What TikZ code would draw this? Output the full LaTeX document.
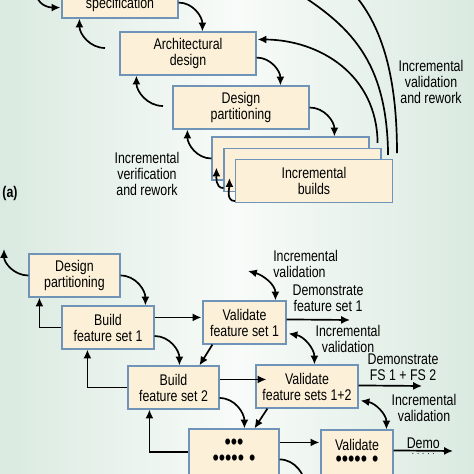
\documentclass[tikz,border=0pt]{standalone}
\usepackage{fontspec}
\setmainfont[FakeStretch=0.8]{Liberation Sans}
\usetikzlibrary{arrows.meta,calc}

\definecolor{boxfill}{HTML}{FCF1D8}
\definecolor{boxline}{HTML}{6F94B8}
\definecolor{bgside}{HTML}{DAEAE0}
\definecolor{bgmid}{HTML}{F8FBF9}

\newcommand{\bigdots}[1]{{\fontsize{16}{11.4}\selectfont #1}}

\tikzset{
	stage/.style={draw=boxline, fill=boxfill, line width=0.8pt, align=center, inner sep=0pt},
	arr/.style={line width=1.2pt, -{Latex[length=2.2mm,width=2mm]}},
	darr/.style={line width=1.2pt, {Latex[length=2.2mm,width=2mm]}-{Latex[length=2.2mm,width=2mm]}},
	wire/.style={line width=1.2pt},
	lbl/.style={align=center, inner sep=0pt}
}

\begin{document}
\begin{tikzpicture}[x=0.025cm, y=-0.025cm, every node/.style={font=\fontsize{11}{11.4}\selectfont}]

	\useasboundingbox (0,0) rectangle (474,474);
	\clip (0,0) rectangle (474,474);
	\shade[left color=bgside, right color=bgside, middle color=bgmid] (0,0) rectangle (474,474);

	% (a) waterfall with incremental builds
	\draw (120,-3.5) node[stage, minimum width=2.9cm, minimum height=1.075cm] (spec) {\vphantom{Ag}\\specification};
	\draw (188,53.5) node[stage, minimum width=3.4cm, minimum height=1.075cm] (arch) {Architectural\\design};
	\draw (241,107.5) node[stage, minimum width=3.4cm, minimum height=1.075cm] (dp) {Design\\partitioning};
	% Build stack
	\draw (290.5,158.5) node[stage, minimum width=3.925cm, minimum height=1.075cm] (b1) {};
	\draw (302.5,170) node[stage, minimum width=3.925cm, minimum height=1.075cm] (b2) {};
	\draw (314,181) node[stage, minimum width=3.925cm, minimum height=1.075cm] (b3) {Incremental\\builds};

	\coordinate (specin) at (37,-3);
	\draw[arr] (specin) to[out=-70, in=180] ($(spec.south west)+(-1,-11)$);
	\draw[arr] ($(spec.south east)+(0,-16)$) to[out=0, in=90] ($(arch.north west)+(83,0)$);
	\draw[arr] ($(arch.south east)+(0,-18)$) to[out=0, in=90] ($(dp.north west)+(108,0)$);
	\draw[arr] (dp.east) to[out=0, in=90] ($(b1.north west)+(123,0)$);

	\coordinate (archfb) at (105,48);
	\coordinate (dpfb) at (163,106);
	\draw[arr] (archfb) to[out=180, in=-90] ($(spec.south west)+(18,0)$);
	\draw[arr] (dpfb) to[out=180, in=-90] ($(arch.south west)+(17,0)$);
	\draw[arr] (b1.west) to[out=180, in=-90] ($(dp.south west)+(15,0)$);
	\draw[arr] ($(b2.south west)+(0,-4)$) to[out=180, in=-90] ($(b1.south west)+(5,-13)$);
	\draw[arr] ($(b3.south west)+(0,-2)$) to[out=180, in=-90] ($(b2.south west)+(6,-14)$);

	% Validation arcs
	\coordinate (arcb) at (290,-12);
	\coordinate (arcc) at (340,-20);
	\coordinate (arcfoot) at (397,153);
	\draw[arr] ($(b2.north east)+(-4,-5)$) .. controls (377,75) and (320,40) .. ($(arch.north east)+(1,8)$);
	\draw[wire] ($(b3.north east)+(-5,-4)$) .. controls (387,60) and (350,25) .. (arcb);
	\draw[wire] (arcfoot) .. controls (397,60) and (375,10) .. (arcc);

	\draw (431,82) node[lbl] (valtxt) {Incremental\\validation\\and rework};
	\draw (147,174) node[lbl] (vertxt) {Incremental\\verification\\and rework};
	\draw (10,193) node[lbl] (parta) {\bfseries (a)};

	% (b) feature sets
	\draw (74.5,275.5) node[stage, minimum width=2.275cm, minimum height=1.075cm] (dp2) {Design\\partitioning};
	\draw (108,327.5) node[stage, minimum width=2.3cm, minimum height=1.075cm] (bfs1) {Build\\feature set 1};
	\draw (244.5,322.5) node[stage, minimum width=2.075cm, minimum height=1.075cm] (vfs1) {Validate\\feature set 1};
	\draw (173.5,387.5) node[stage, minimum width=2.275cm, minimum height=1.075cm] (bfs2) {Build\\feature set 2};
	\draw (307,386.5) node[stage, minimum width=2.55cm, minimum height=1.075cm] (vfs12) {Validate\\feature sets 1+2};
	\draw (234,452) node[stage, minimum width=2.25cm, minimum height=1.15cm] (dots) {\bigdots{•••}\\\bigdots{••••• •}};
	\draw (357,453) node[stage, minimum width=1.8cm, minimum height=1.15cm] (val3) {Validate\\\bigdots{••••• •}};

	\coordinate (dpup) at (4,249);
	\draw[arr] (dp2.west) to[out=180, in=-90] (dpup);
	\draw[arr] (dp2.east) to[out=0, in=90] ($(bfs1.north west)+(84,0)$);
	\draw[arr] (bfs1.west) -| ($(dp2.south west)+(11,0)$);
	\draw[arr] ($(bfs1.north east)+(0,12)$) -- ($(vfs1.north west)+(-1,17)$);
	\draw[arr] ($(bfs1.east)+(0,8.5)$) to[out=0, in=90] ($(bfs2.north west)+(52,0)$);
	\draw[arr] ($(vfs1.south west)+(10,0)$) -- ($(bfs2.north west)+(72,0)$);

	\draw[arr] (bfs2.west) -| ($(bfs1.south west)+(26,0)$);
	\draw[arr] ($(bfs2.north east)+(0,14)$) -- ($(vfs12.north west)+(11,15)$);
	\draw[arr] ($(bfs2.east)+(0,10.5)$) to[out=0, in=90] ($(dots.north west)+(56,0)$);
	\draw[arr] ($(vfs12.south west)+(12,0)$) -- ($(dots.north west)+(66,0)$);

	\draw[arr] (dots.west) -| ($(bfs2.south west)+(22,0)$);
	\draw[arr] ($(dots.north east)+(0,14)$) -- ($(val3.north west)+(-1,13)$);
	\coordinate (dotsout) at (305,492);
	\draw[arr] ($(dots.north east)+(0,31)$) to[out=0, in=90] (dotsout);

	% Incremental validation loops
	\coordinate (iv1) at (248,271);
	\draw[darr] (iv1) to[out=-15, in=90] ($(vfs1.north west)+(73,0)$);
	\draw[darr] ($(vfs1.south east)+(2,-11)$) to[out=-10, in=90] ($(vfs12.north west)+(59,0)$);
	\draw[darr] ($(vfs12.south east)+(2,-8)$) to[out=-10, in=90] ($(val3.north west)+(66,0)$);

	% Demonstrations
	\coordinate (demo1) at (350,320);
	\coordinate (demo2) at (422,386);
	\coordinate (demo3) at (453,451);
	\draw[arr] ($(vfs1.north east)+(0,19)$) -- (demo1);
	\draw[arr] ($(vfs12.north east)+(0,21)$) -- (demo2);
	\draw[arr] ($(val3.north east)+(0,21)$) -- node[above, inner sep=1pt] (demotxt) {Demo} node[below, inner sep=1pt, font=\scriptsize] (demodots) {. . . . .} (demo3);

	\draw (273,264) node[lbl, anchor=west, align=left] (ivtxt1) {Incremental\\validation};
	\draw (328,298.5) node[lbl] (demotxt1) {Demonstrate\\feature set 1};
	\draw (348,338.5) node[lbl] (ivtxt2) {Incremental\\validation};
	\draw (403,367.5) node[lbl] (demotxt2) {Demonstrate\\FS 1 + FS 2};
	\draw (424,408) node[lbl] (ivtxt3) {Incremental\\validation};

\end{tikzpicture}
\end{document}
